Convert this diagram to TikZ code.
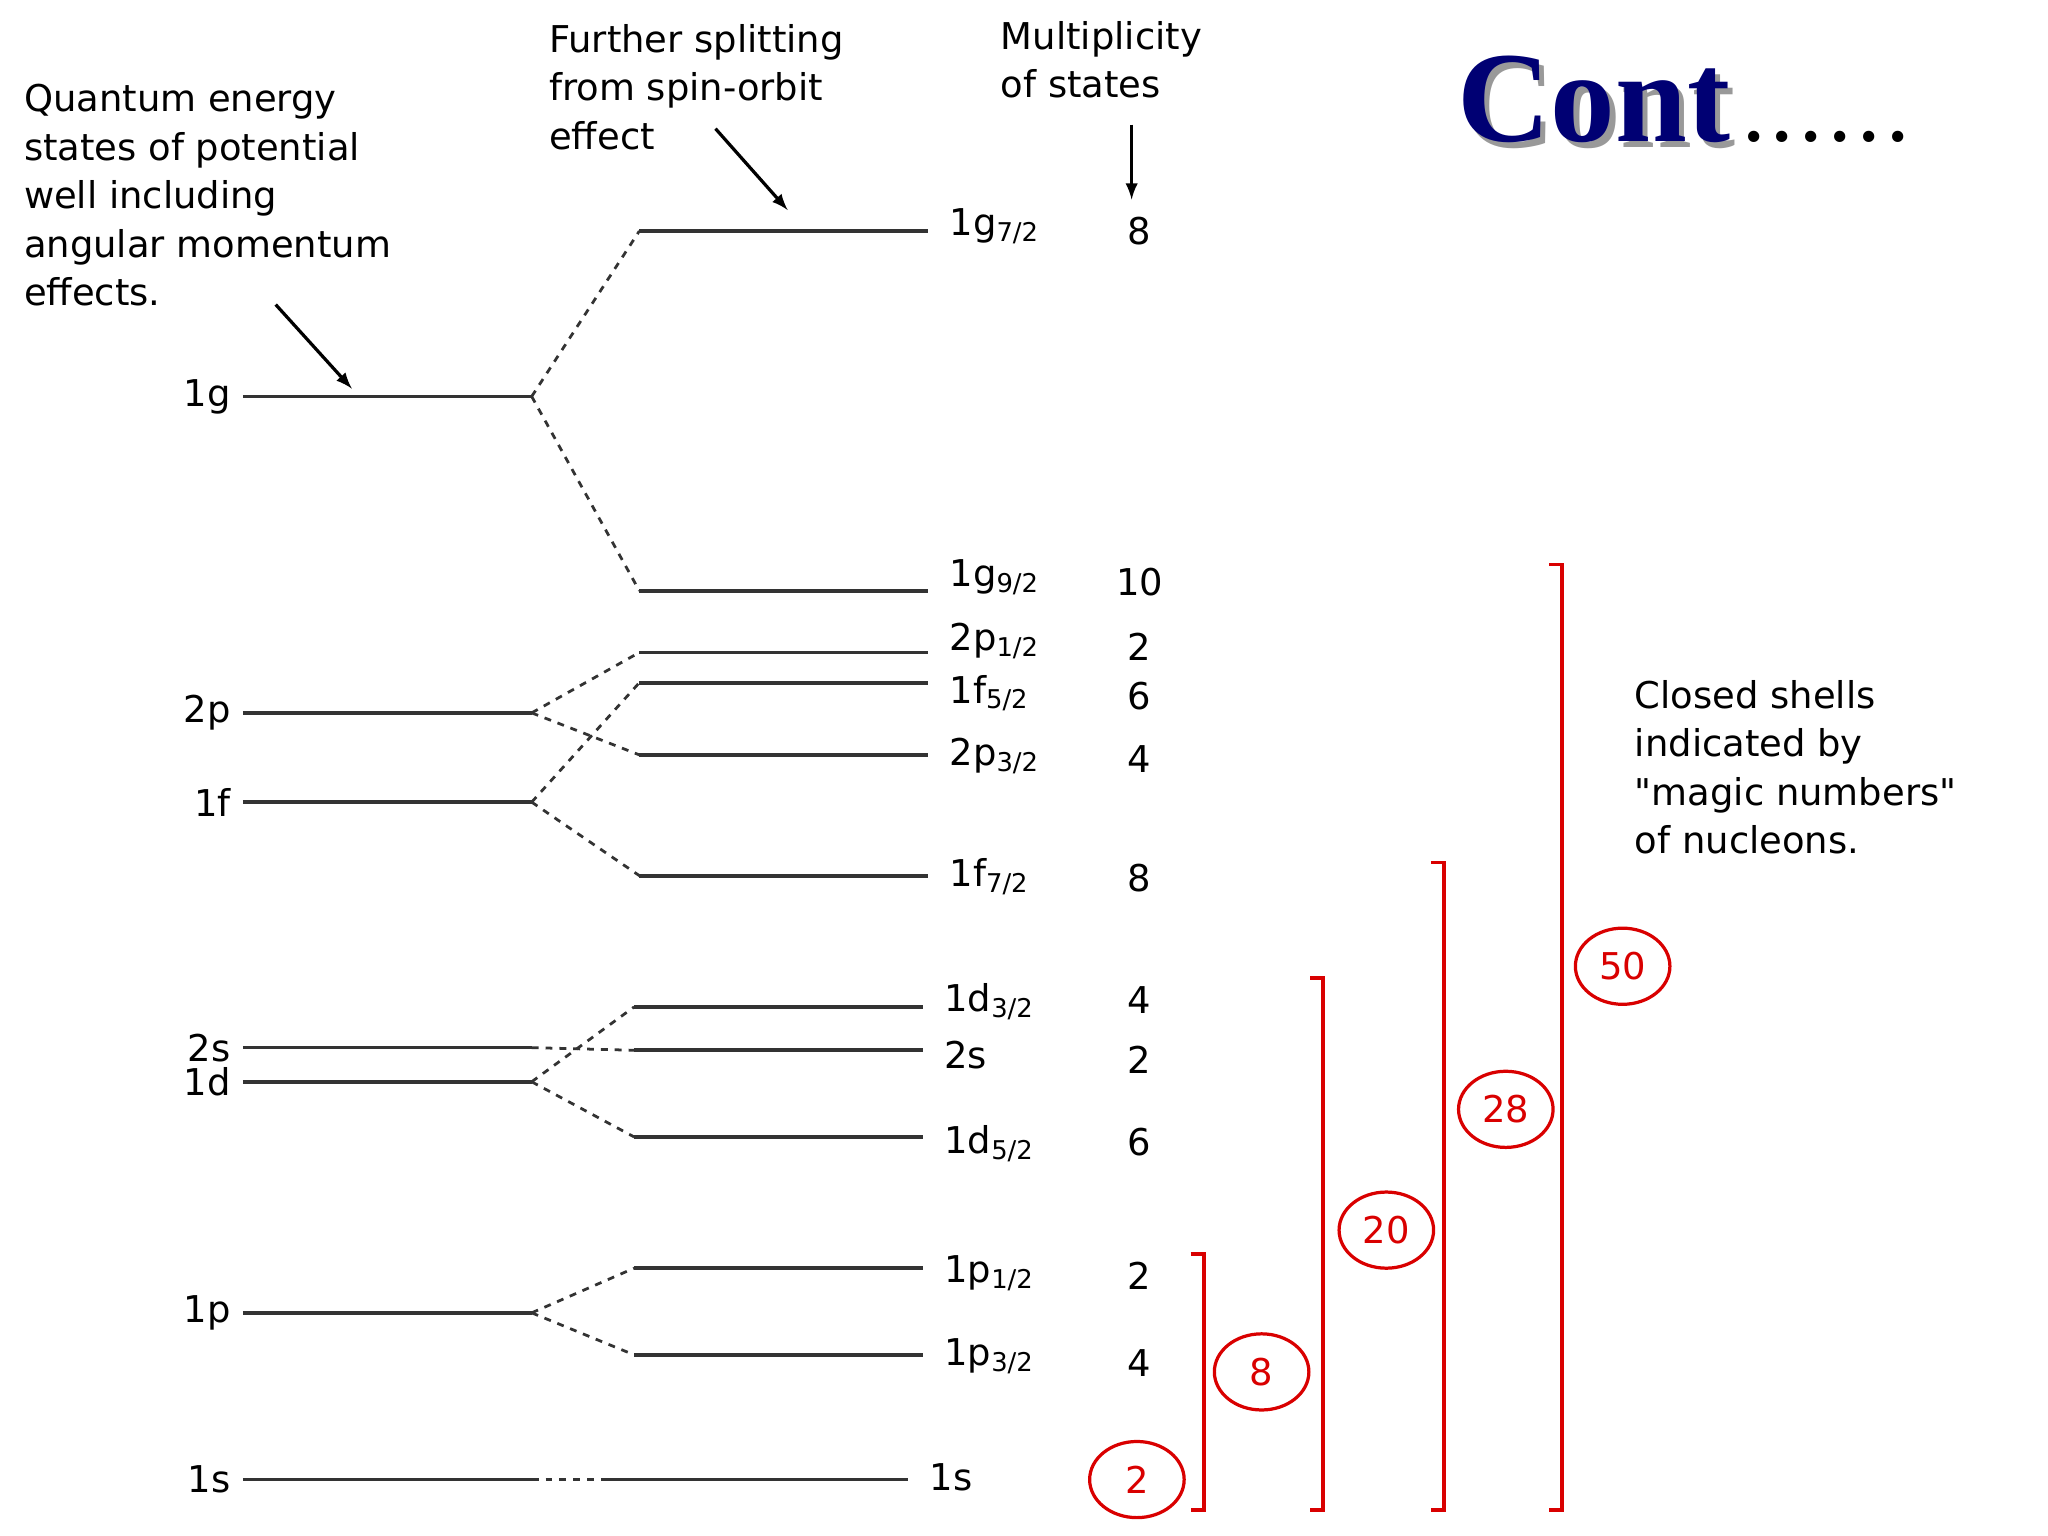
\documentclass[tikz,border=0pt]{standalone}
\usepackage{fontspec}
\setmainfont{DejaVu Sans}
\newfontfamily\qfont{DejaVu Sans}
\newfontfamily\titlefont{Liberation Serif}
\usetikzlibrary{shapes.geometric}
\begin{document}
\begin{tikzpicture}[x=0.02cm,y=-0.02cm,
  lvl/.style={line width=1.6pt,draw=black!80},
  conn/.style={dashed,line width=1.2pt,draw=black!80},
  txt/.style={font=\fontsize{16}{21}\selectfont,inner sep=0pt},
  lab/.style={txt,anchor=west},
  mult/.style={txt,anchor=center},
  brk/.style={draw=red!85!black,line width=1.6pt},
  magic/.style={draw=red!85!black,line width=1.4pt,ellipse,minimum width=72*0.02cm,minimum height=58*0.02cm,text=red!85!black,font=\fontsize{16}{21}\selectfont,inner sep=0pt},
  arr/.style={-latex,line width=1.4pt}]
\useasboundingbox (0,0) rectangle (1560,1170);
% left levels
\foreach \n/\y/\t in {g/302/1g,p2/543/2p,f/611/1f,s2/798/2s,d/824/1d,p/1000/1p,s/1127/1s}{
  \coordinate (L\n a) at (185,\y); \coordinate (L\n) at (405,\y);
  \node[txt,anchor=east] (T\n) at (176,\y) {\t};
}
\draw[lvl] (Lga)--(Lg); \draw[lvl] (Lp2a)--(Lp2); \draw[lvl] (Lfa)--(Lf);
\draw[lvl] (Ls2a)--(Ls2); \draw[lvl] (Lda)--(Ld); \draw[lvl] (Lpa)--(Lp); \draw[lvl] (Lsa)--(Ls);
% right levels
\foreach \n/\y/\ly/\my/\xa/\xb/\t/\m in {
 g7/176/172/176/487/707/1g\textsubscript{7/2}/8,
 g9/450/440/443/487/707/1g\textsubscript{9/2}/10,
 p1/497/488/493/487/707/2p\textsubscript{1/2}/2,
 f5/520/528/530/487/707/1f\textsubscript{5/2}/6,
 p3/575/576/578/487/707/2p\textsubscript{3/2}/4,
 f7/667/668/669/487/707/1f\textsubscript{7/2}/8,
 d3/767/763/762/483/703/1d\textsubscript{3/2}/4,
 s2/800/804/807/483/703/2s/2,
 d5/866/871/870/483/703/1d\textsubscript{5/2}/6,
 q1/966/970/972/483/703/1p\textsubscript{1/2}/2,
 q3/1032/1033/1038/483/703/1p\textsubscript{3/2}/4,
 s1/1127/1125/1127/462/692/1s/}{
  \coordinate (R\n) at (\xa,\y); \coordinate (R\n b) at (\xb,\y);
  \draw[lvl] (R\n)--(R\n b);
  \node[lab] (N\n) at (\xb+16,\ly) {\t};
  \node[mult] (M\n) at (868,\my) {\m};
}
% connectors
\draw[conn] (Lg)--(Rg7); \draw[conn] (Lg)--(Rg9);
\draw[conn] (Lp2)--(Rp1); \draw[conn] (Lp2)--(Rp3);
\draw[conn] (Lf)--(Rf5); \draw[conn] (Lf)--(Rf7);
\draw[conn] (Ld)--(Rd3); \draw[conn] (Ld)--(Rd5);
\draw[conn] (Lp)--(Rq1); \draw[conn] (Lp)--(Rq3);
\draw[conn] (Ls2)--(Rs2); \draw[conn] (Ls)--(Rs1);
% annotations
\node[txt,anchor=north west,align=left] (A1) at (18,64) {Quantum energy\\states of potential\\well including\\angular momentum\\effects.};
\node[txt,anchor=north west,align=left] (A2) at (418,18) {Further splitting\\from spin-orbit\\effect};
\node[txt,anchor=north west,align=left] (A3) at (762,16) {Multiplicity\\of states};
\node[txt,anchor=north west,align=left] (A4) at (1245,518) {Closed shells\\indicated by\\{\qfont"}magic numbers{\qfont"}\\of nucleons.};
\coordinate (a1s) at (210,232); \coordinate (a1e) at (268,296);
\coordinate (a2s) at (545,98); \coordinate (a2e) at (600,160);
\coordinate (a3s) at (862,95); \coordinate (a3e) at (862,152);
\draw[arr] (a1s)--(a1e); \draw[arr] (a2s)--(a2e); \draw[arr] (a3s)--(a3e);
% brackets
\foreach \x/\t in {917/955,1008/745,1100/657,1190/430}{
  \draw[brk] (\x-10,\t)--(\x,\t)--(\x,1150)--(\x-10,1150);
}
\node[magic] (c2) at (866,1127) {2};
\node[magic] (c8) at (961,1045) {8};
\node[magic] (c20) at (1056,937) {20};
\node[magic] (c28) at (1147,845) {28};
\node[magic] (c50) at (1236,736) {50};
% title
\node[anchor=west,inner sep=0pt,text=black!40,font=\titlefont\bfseries\fontsize{56}{60}\selectfont] (tsh) at (1114,80) {Cont};
\node[anchor=west,inner sep=0pt,text=blue!45!black,font=\titlefont\bfseries\fontsize{56}{60}\selectfont] (title) at (1110,76) {Cont};
\node[anchor=base west,inner sep=0pt,font=\titlefont\bfseries\fontsize{30}{30}\selectfont] (dots) at ([xshift=6pt]title.base east) {.\,.\,.\,.\,.\,.};
\end{tikzpicture}
\end{document}
